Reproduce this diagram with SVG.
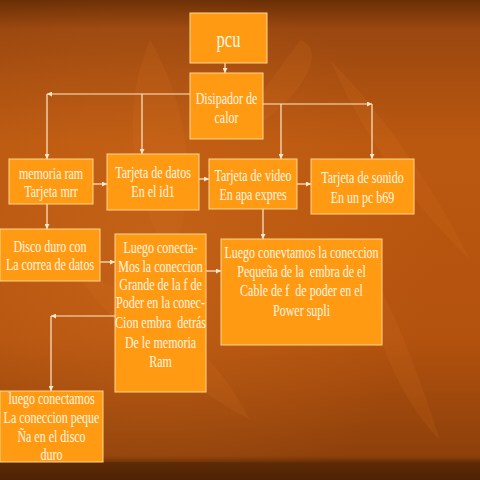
<svg xmlns="http://www.w3.org/2000/svg" width="480" height="480" viewBox="0 0 480 480">
<defs>
<linearGradient id="bg" x1="0" y1="0" x2="0" y2="1">
<stop offset="0" stop-color="#6a2f06"/>
<stop offset="0.06" stop-color="#9a4710"/>
<stop offset="0.3" stop-color="#bb5810"/>
<stop offset="0.7" stop-color="#b3520e"/>
<stop offset="0.95" stop-color="#8e400b"/>
<stop offset="0.965" stop-color="#5e2a05"/>
<stop offset="1" stop-color="#4e2204"/>
</linearGradient>
<radialGradient id="glow" cx="0.3" cy="0.55" r="0.6">
<stop offset="0" stop-color="#d27020" stop-opacity="0.45"/>
<stop offset="1" stop-color="#d27020" stop-opacity="0"/>
</radialGradient>
<marker id="ah" viewBox="0 0 6 6" refX="6" refY="3" markerWidth="5" markerHeight="5" orient="auto" markerUnits="userSpaceOnUse">
<path d="M0,0 L6,3 L0,6 z" fill="#fde9cc"/>
</marker>
<style>
.box{fill:#ff9a12;stroke:#ffd890;stroke-width:1}
.t{font-family:"Liberation Serif","Times New Roman",serif;font-size:16px;fill:#fff6e4;text-anchor:middle;white-space:pre}
.big{font-size:23px}
.c line{stroke:#fde9cc;stroke-width:1.2;fill:none}
.leaf{fill:#e07a28;opacity:0.13}
</style>
</defs>
<rect width="480" height="480" fill="url(#bg)"/>
<rect width="480" height="462" fill="url(#glow)"/>
<g id="background-leaves">
<path class="leaf" d="M150,40 C120,110 130,190 170,260 C200,190 190,110 150,40 z"/>
<path class="leaf" d="M250,130 C300,100 330,50 300,40 C280,70 250,100 250,130 z"/>
<path class="leaf" d="M330,60 C390,120 440,200 470,260 C420,210 370,150 330,60 z"/>
<path class="leaf" d="M60,250 C120,300 200,320 250,420 C180,380 110,330 60,250 z"/>
<path class="leaf" d="M360,250 C400,320 420,380 440,440 C400,400 370,330 360,250 z"/>
</g>
<g class="c" id="connectors">
<line x1="225" y1="63" x2="225" y2="73" marker-end="url(#ah)"/>
<line x1="190" y1="94" x2="47" y2="94" marker-end="url(#ah)"/>
<line x1="47" y1="94" x2="47" y2="159" marker-end="url(#ah)"/>
<line x1="142" y1="94" x2="142" y2="154" marker-end="url(#ah)"/>
<line x1="263" y1="104" x2="372" y2="104" marker-end="url(#ah)"/>
<line x1="372" y1="104" x2="372" y2="159" marker-end="url(#ah)"/>
<line x1="281" y1="104" x2="281" y2="159" marker-end="url(#ah)"/>
<line x1="93" y1="184" x2="107" y2="184" marker-end="url(#ah)"/>
<line x1="199" y1="179" x2="209" y2="179" marker-end="url(#ah)"/>
<line x1="297" y1="184" x2="311" y2="184" marker-end="url(#ah)"/>
<line x1="47" y1="204" x2="47" y2="229" marker-end="url(#ah)"/>
<line x1="263" y1="209" x2="263" y2="239" marker-end="url(#ah)"/>
<line x1="100" y1="262" x2="115" y2="262" marker-end="url(#ah)"/>
<line x1="206" y1="271" x2="221" y2="271" marker-end="url(#ah)"/>
<line x1="115" y1="316" x2="51" y2="316" marker-end="url(#ah)"/>
<line x1="51" y1="316" x2="51" y2="391" marker-end="url(#ah)"/>
</g>
<g id="pcu">
<rect class="box" x="190" y="13" width="77" height="50"/>
<text class="t big" transform="translate(228.5 0) scale(.72 1)" y="47">pcu</text>
</g>
<g id="disipador">
<rect class="box" x="190" y="73" width="73" height="66"/>
<g transform="translate(226.5 0) scale(.75 1)"><text class="t" y="104">Disipador de</text><text class="t" y="123">calor</text></g>
</g>
<g id="memoria">
<rect class="box" x="9" y="159" width="84" height="45"/>
<g transform="translate(51 0) scale(.75 1)"><text class="t" y="179">memoria ram</text><text class="t" y="197">Tarjeta mrr</text></g>
</g>
<g id="datos">
<rect class="box" x="107" y="154" width="92" height="56"/>
<g transform="translate(153 0) scale(.75 1)"><text class="t" y="178">Tarjeta de datos</text><text class="t" y="197">En el id1</text></g>
</g>
<g id="video">
<rect class="box" x="209" y="159" width="88" height="50"/>
<g transform="translate(253 0) scale(.75 1)"><text class="t" y="181">Tarjeta de video</text><text class="t" y="200">En apa expres</text></g>
</g>
<g id="sonido">
<rect class="box" x="311" y="159" width="103" height="55"/>
<g transform="translate(362.5 0) scale(.75 1)"><text class="t" y="183">Tarjeta de sonido</text><text class="t" y="203">En un pc b69</text></g>
</g>
<g id="disco">
<rect class="box" x="0" y="229" width="100" height="52"/>
<g transform="translate(50 0) scale(.75 1)"><text class="t" y="252">Disco duro con</text><text class="t" y="270">La correa de datos</text></g>
</g>
<g id="luego-conecta">
<rect class="box" x="115" y="234" width="91" height="158"/>
<g transform="translate(160.5 0) scale(.75 1)">
<text class="t" y="253">Luego conecta-</text>
<text class="t" y="272">Mos la coneccion</text>
<text class="t" y="290">Grande de la f de</text>
<text class="t" y="308">Poder en la conec-</text>
<text class="t" y="328">Cion embra  detrás</text>
<text class="t" y="348">De le memoria</text>
<text class="t" y="367">Ram</text>
</g>
</g>
<g id="luego-conevtamos">
<rect class="box" x="221" y="239" width="161" height="106"/>
<g transform="translate(301.5 0) scale(.75 1)">
<text class="t" y="258">Luego conevtamos la coneccion</text>
<text class="t" y="277">Pequeña de la  embra de el</text>
<text class="t" y="296">Cable de f  de poder en el</text>
<text class="t" y="316">Power supli</text>
</g>
</g>
<g id="luego-conectamos">
<rect class="box" x="0" y="391" width="103" height="71"/>
<g transform="translate(51.5 0) scale(.75 1)">
<text class="t" y="404">luego conectamos</text>
<text class="t" y="423">La coneccion peque</text>
<text class="t" y="442">Ña en el disco</text>
<text class="t" y="460">duro</text>
</g>
</g>
</svg>
